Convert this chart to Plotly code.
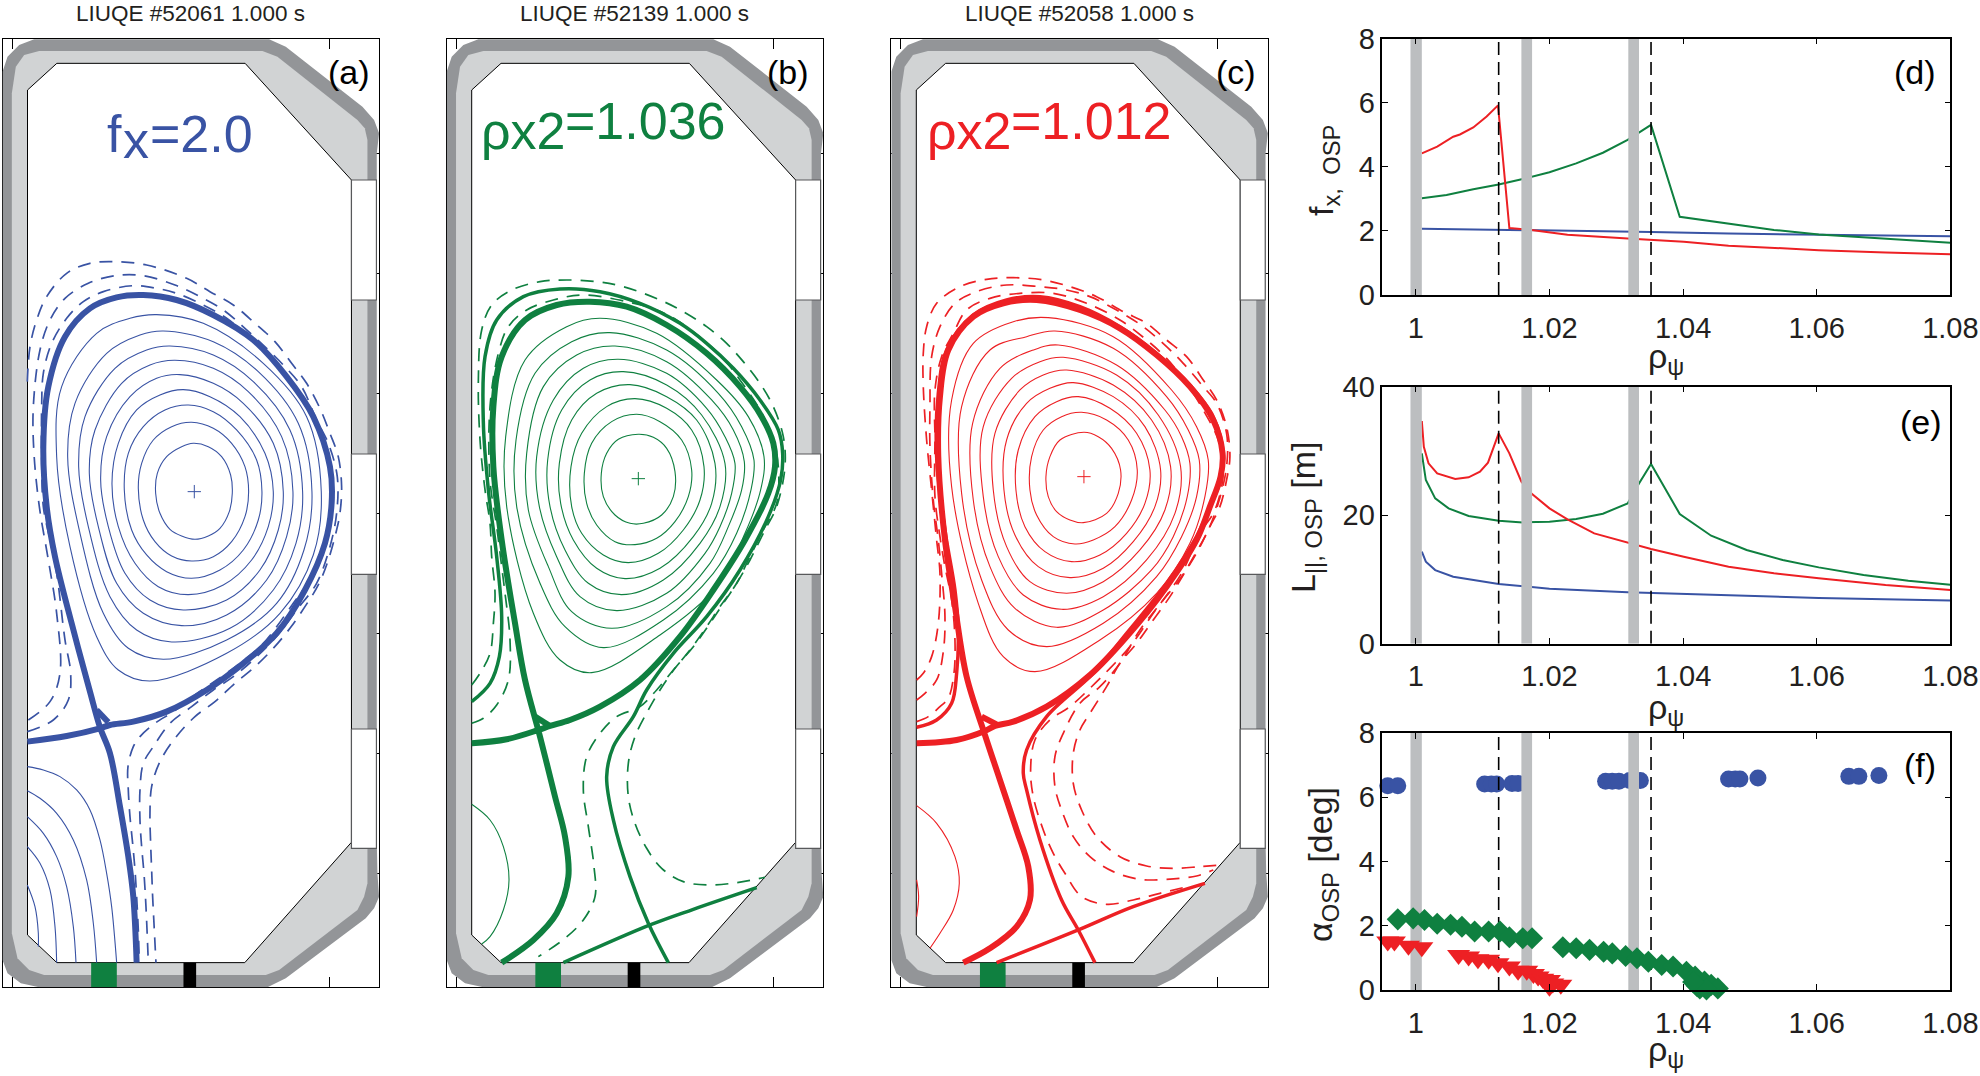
import plotly.graph_objects as go

BLUE = '#3953a4'
GREEN = '#0f8040'
RED = '#ed2024'
DARK_GRAY = '#939598'
LIGHT_GRAY = '#d1d3d4'
BAND_GRAY = '#bcbec0'
INK = '#231f20'
FONT = 'Liberation Sans'

# ---- vessel, same for the three equilibria (R offset from the frame, Z down) ----
VESSEL_OUTER = [(0, 2160), (15, 2200), (55, 2230), (110, 2242), (795, 2242), (850, 2215), (1090, 2035),
                (1115, 2005), (1130, 1970), (1125, 1900), (1123, 1800), (1123, -260), (1130, -320),
                (1115, -360), (1080, -400), (850, -580), (800, -602), (95, -602), (50, -585), (15, -550),
                (0, -505), (0, 2160)]
VESSEL_MIDDLE = [(28, -440), (40, -520), (65, -555), (110, -567), (780, -567), (825, -550), (1065, -360),
                 (1087, -335), (1095, -300), (1095, 1930), (1085, 1970), (1065, 2010), (830, 2190),
                 (790, 2205), (125, 2205), (80, 2190), (45, 2155), (28, 2080), (28, -440)]
VESSEL_INNER = [(75, -450), (163, -530), (728, -530), (1047, -180), (1047, 1807), (727, 2168), (163, 2168),
                (75, 2085), (75, -450)]
PORT_LEFT = 1047
PORT_RIGHT = 1122
PORT_TOP = [-180, 642, 1467]
PORT_BOTTOM = [180, 1003, 1825]
GREEN_TILE = [(266, 2168), (343, 2168), (343, 2242), (266, 2242), (266, 2168)]
BLACK_TILE = [(543, 2168), (581, 2168), (581, 2282), (543, 2282), (543, 2168)]
FRAME_R_TICKS = [29, 980]
FRAME_Z_TICKS = [-260, 100, 460, 820, 1180, 1540, 1900]

# ---- panel (a) ----
A_AXIS = (583, 755)
A_SURFACES = [
    [(580, 610), (625, 620), (665, 650), (692, 705), (697, 760), (688, 815), (660, 865), (625, 888), (585, 898), (545, 888), (510, 868), (480, 820), (467, 760), (472, 700), (500, 650), (545, 620), (580, 610)],
    [(575, 547), (640, 565), (695, 610), (735, 680), (746, 755), (735, 830), (695, 905), (640, 950), (575, 963), (515, 948), (465, 905), (430, 840), (415, 745), (425, 670), (460, 600), (515, 560), (575, 547)],
    [(565, 495), (640, 515), (710, 570), (770, 660), (786, 755), (775, 840), (730, 930), (660, 990), (575, 1015), (500, 995), (440, 945), (395, 870), (373, 750), (385, 640), (430, 560), (495, 510), (565, 495)],
    [(550, 449), (630, 470), (720, 530), (795, 640), (820, 755), (805, 860), (755, 960), (670, 1035), (565, 1064), (475, 1040), (405, 970), (355, 860), (336, 730), (355, 610), (410, 510), (480, 465), (550, 449)],
    [(540, 404), (640, 430), (730, 490), (820, 610), (850, 755), (835, 870), (780, 990), (680, 1080), (550, 1110), (450, 1080), (375, 1000), (325, 860), (302, 720), (320, 590), (390, 470), (470, 415), (540, 404)],
    [(525, 361), (640, 385), (745, 455), (845, 590), (879, 755), (860, 890), (800, 1020), (680, 1125), (545, 1157), (430, 1120), (350, 1030), (295, 860), (268, 700), (285, 570), (365, 430), (450, 375), (525, 361)],
    [(510, 318), (640, 345), (760, 425), (870, 570), (908, 755), (888, 910), (820, 1050), (690, 1165), (515, 1206), (410, 1170), (330, 1070), (265, 860), (236, 680), (255, 530), (345, 385), (440, 330), (510, 318)],
    [(490, 273), (640, 305), (775, 395), (895, 550), (936, 755), (912, 930), (830, 1090), (680, 1200), (490, 1258), (385, 1225), (310, 1120), (240, 880), (203, 650), (225, 490), (320, 340), (420, 285), (490, 273)],
    [(470, 224), (610, 250), (790, 370), (920, 530), (964, 755), (940, 945), (840, 1120), (680, 1240), (450, 1323), (355, 1290), (290, 1190), (210, 920), (170, 650), (185, 440), (290, 280), (390, 235), (470, 224)],
]
A_PRIVATE = [
    [(82, 1580), (130, 1590), (180, 1610), (230, 1650), (270, 1710), (300, 1800), (320, 1900), (335, 2000), (350, 2168)],
    [(82, 1652), (120, 1675), (170, 1720), (220, 1800), (260, 1920), (280, 2050), (290, 2168)],
    [(82, 1730), (130, 1780), (170, 1850), (200, 1940), (220, 2060), (228, 2168)],
    [(82, 1820), (120, 1870), (150, 1950), (165, 2060), (170, 2168)],
    [(82, 1935), (105, 2000), (115, 2080), (115, 2120)],
]
A_THICK = [
    [(410, 2168), (400, 1970), (385, 1850), (360, 1700), (330, 1540), (300, 1462), (270, 1355), (215, 1150), (165, 950), (140, 800), (130, 620), (145, 440), (195, 290), (270, 205), (350, 172), (430, 165), (530, 180), (640, 225), (760, 300), (860, 410), (940, 530), (990, 680), (995, 790), (975, 910), (915, 1050), (830, 1180), (730, 1270), (620, 1350), (500, 1415), (400, 1445), (330, 1455), (300, 1465), (200, 1488), (82, 1505)],
    [(290, 1410), (325, 1447)],
]
A_MEDIUM = []
A_DASHED = [
    [(82, 425), (90, 320), (110, 240), (140, 170), (200, 100), (270, 70), (345, 65), (440, 75), (560, 115), (630, 155), (700, 195), (765, 250), (825, 305), (875, 370), (920, 430), (960, 505), (990, 580), (1015, 650), (1025, 740), (1020, 820), (1010, 870), (985, 960), (955, 1035), (915, 1100), (870, 1165), (820, 1225), (765, 1280), (705, 1330), (645, 1385), (585, 1430), (525, 1495), (480, 1565), (455, 1640), (450, 1720), (452, 1810), (455, 1890), (458, 1970), (462, 2050), (468, 2168)],
    [(85, 1440), (150, 1385), (180, 1300), (170, 1120), (145, 960), (118, 800), (102, 640), (100, 500), (120, 330), (150, 240), (195, 175), (265, 130), (345, 107), (430, 107), (525, 135), (600, 170), (670, 210), (735, 265), (800, 325), (850, 375), (905, 440), (950, 540), (985, 610), (1012, 710), (1010, 820), (990, 920), (950, 1030), (890, 1110), (825, 1195), (765, 1255), (700, 1310), (640, 1350), (575, 1400), (510, 1450), (460, 1520), (430, 1570), (420, 1650), (420, 1740), (425, 1820), (432, 1900), (438, 2000), (445, 2168)],
    [(82, 1475), (160, 1440), (205, 1380), (212, 1300), (195, 1200), (170, 1000), (150, 900), (130, 800), (125, 650), (125, 500), (130, 400), (155, 310), (200, 235), (250, 185), (310, 155), (400, 137), (470, 145), (530, 160), (610, 195), (680, 235), (740, 285), (800, 345), (860, 410), (905, 470), (950, 560), (990, 670), (1000, 790), (975, 920), (935, 1010), (880, 1090), (790, 1210), (720, 1270), (650, 1320), (585, 1365), (520, 1415), (465, 1450), (420, 1490), (400, 1520), (384, 1580), (385, 1650), (390, 1730), (398, 1810), (405, 1890), (410, 1970), (415, 2070), (418, 2168)],
]

# ---- panel (b) ----
B_AXIS = (595, 716)
B_SURFACES = [
    [(595, 583), (640, 592), (680, 625), (705, 695), (700, 770), (665, 825), (610, 850), (570, 850), (525, 825), (490, 770), (484, 700), (500, 640), (535, 598), (595, 583)],
    [(590, 523), (660, 545), (725, 600), (755, 690), (745, 770), (705, 845), (650, 895), (585, 914), (525, 905), (470, 855), (440, 790), (433, 700), (455, 610), (515, 545), (590, 523)],
    [(585, 476), (680, 505), (755, 570), (792, 680), (780, 780), (730, 870), (655, 940), (565, 968), (490, 945), (425, 880), (395, 800), (393, 680), (425, 580), (500, 500), (585, 476)],
    [(570, 434), (680, 470), (770, 540), (825, 670), (815, 790), (760, 890), (660, 985), (555, 1016), (470, 985), (400, 900), (362, 790), (358, 670), (395, 540), (470, 460), (570, 434)],
    [(550, 395), (680, 435), (785, 525), (855, 670), (840, 800), (780, 910), (670, 1020), (545, 1064), (445, 1030), (375, 930), (330, 800), (323, 660), (365, 510), (450, 420), (550, 395)],
    [(535, 358), (680, 400), (800, 505), (855, 590), (885, 670), (875, 760), (840, 860), (795, 940), (680, 1060), (530, 1112), (420, 1070), (350, 950), (298, 800), (290, 650), (340, 480), (430, 385), (535, 358)],
    [(525, 318), (680, 365), (815, 480), (880, 570), (913, 665), (905, 750), (865, 860), (810, 970), (680, 1100), (515, 1165), (395, 1115), (325, 980), (265, 810), (260, 640), (310, 440), (410, 345), (525, 318)],
    [(510, 278), (680, 330), (835, 460), (905, 560), (942, 660), (933, 750), (890, 880), (820, 1000), (670, 1140), (490, 1223), (375, 1160), (300, 1030), (230, 800), (228, 600), (285, 400), (395, 305), (510, 278)],
    [(480, 235), (650, 280), (830, 420), (925, 530), (972, 650), (962, 750), (915, 880), (830, 1040), (660, 1185), (455, 1298), (360, 1260), (280, 1120), (200, 800), (197, 590), (255, 360), (380, 260), (480, 235)],
]
B_PRIVATE = [
    [(95, 1693), (150, 1740), (190, 1820), (207, 1920), (190, 2010), (150, 2090), (125, 2112)],
]
B_THICK = [
    [(185, 2168), (280, 2100), (350, 2020), (385, 1910), (375, 1790), (345, 1670), (300, 1490), (255, 1320), (225, 1150), (185, 900), (160, 680), (160, 500), (185, 350), (255, 240), (350, 195), (450, 185), (560, 200), (680, 255), (800, 340), (900, 440), (965, 530), (1000, 610), (1005, 680), (985, 760), (915, 900), (820, 1050), (720, 1190), (600, 1320), (480, 1400), (390, 1440), (330, 1458), (295, 1470), (200, 1498), (95, 1510)],
    [(285, 1430), (330, 1458)],
]
B_MEDIUM = [
    [(95, 1385), (150, 1330), (178, 1250), (185, 1130), (170, 950), (145, 750), (130, 550), (135, 350), (170, 240), (250, 170), (360, 147), (480, 155), (600, 190), (720, 250), (800, 310), (880, 385), (960, 480), (1015, 570), (1028, 640), (1022, 720), (985, 830), (900, 990), (800, 1130), (700, 1240), (620, 1350), (580, 1430), (520, 1520), (500, 1610), (520, 1740), (570, 1910), (625, 2050), (685, 2168)],
    [(370, 2168), (630, 2055), (760, 2008), (950, 1943)],
]
B_DASHED = [
    [(95, 1450), (130, 1435), (170, 1395), (205, 1320), (210, 1200), (195, 1060), (185, 980), (170, 860), (150, 720), (150, 500), (175, 340), (205, 260), (260, 210), (340, 180), (430, 165), (560, 185), (650, 210), (710, 240), (790, 300), (850, 355), (900, 420), (960, 510), (1000, 600), (1015, 680), (1010, 790), (970, 870), (925, 960), (890, 1030), (840, 1100), (800, 1160), (750, 1230), (700, 1290), (650, 1350), (600, 1400), (530, 1430), (480, 1480), (440, 1550), (430, 1650), (445, 1760), (462, 1880), (465, 1970), (430, 2040), (375, 2095), (295, 2150)],
    [(95, 1335), (120, 1300), (150, 1240), (160, 1150), (165, 1060), (155, 950), (150, 850), (135, 750), (120, 600), (115, 420), (125, 270), (155, 195), (215, 150), (300, 125), (380, 120), (470, 125), (550, 140), (660, 180), (730, 215), (800, 260), (860, 310), (910, 365), (960, 430), (1000, 500), (1030, 590), (1035, 680), (1010, 800), (975, 870), (930, 960), (890, 1030), (850, 1090), (810, 1150), (760, 1220), (705, 1285), (660, 1350), (625, 1410), (585, 1490), (565, 1570), (565, 1670), (585, 1750), (620, 1825), (665, 1885), (730, 1925), (810, 1935), (890, 1928), (975, 1912)],
]

# ---- panel (c) ----
C_AXIS = (612, 710)
C_SURFACES = [
    [(612, 577), (655, 590), (695, 625), (722, 690), (715, 760), (680, 820), (610, 848), (570, 840), (530, 815), (505, 770), (498, 710), (510, 650), (540, 600), (612, 577)],
    [(605, 517), (680, 540), (745, 600), (772, 690), (755, 780), (705, 860), (640, 900), (585, 912), (520, 890), (470, 825), (450, 750), (455, 650), (490, 570), (545, 530), (605, 517)],
    [(595, 470), (690, 505), (770, 580), (810, 690), (795, 790), (740, 880), (660, 945), (575, 965), (495, 935), (435, 860), (408, 750), (415, 630), (465, 530), (530, 485), (595, 470)],
    [(580, 428), (700, 470), (795, 560), (842, 690), (825, 800), (760, 905), (670, 985), (570, 1013), (475, 980), (405, 885), (372, 750), (380, 600), (440, 490), (510, 445), (580, 428)],
    [(560, 390), (700, 435), (815, 540), (872, 680), (855, 810), (780, 930), (670, 1025), (560, 1060), (450, 1025), (380, 920), (340, 750), (345, 580), (420, 450), (490, 405), (560, 390)],
    [(550, 352), (710, 405), (835, 525), (902, 680), (885, 820), (800, 960), (670, 1070), (545, 1108), (430, 1065), (355, 950), (310, 770), (310, 560), (395, 415), (480, 365), (550, 352)],
    [(535, 315), (710, 375), (855, 510), (905, 590), (930, 670), (922, 770), (880, 890), (815, 990), (670, 1110), (530, 1162), (405, 1105), (330, 980), (280, 780), (278, 550), (360, 385), (460, 330), (535, 315)],
    [(525, 273), (700, 325), (860, 470), (925, 570), (958, 660), (950, 770), (905, 890), (830, 1010), (670, 1150), (500, 1220), (385, 1170), (305, 1020), (245, 760), (245, 500), (330, 330), (440, 290), (525, 273)],
    [(505, 233), (700, 290), (875, 450), (950, 560), (985, 660), (975, 770), (930, 910), (830, 1060), (660, 1200), (465, 1295), (370, 1250), (295, 1090), (215, 740), (215, 480), (280, 310), (400, 245), (505, 233)],
]
C_PRIVATE = [
    [(110, 1697), (170, 1750), (225, 1850), (238, 1930), (220, 2010), (180, 2080), (150, 2125)],
    [(110, 1920), (116, 1970), (110, 2030)],
]
C_THICK = [
    [(250, 2168), (330, 2125), (410, 2060), (450, 1980), (445, 1880), (410, 1770), (360, 1620), (315, 1485), (260, 1310), (225, 1100), (195, 900), (175, 650), (180, 470), (205, 330), (280, 230), (370, 190), (470, 180), (600, 210), (720, 265), (830, 345), (930, 440), (1000, 540), (1028, 640), (1022, 710), (990, 800), (950, 900), (860, 1040), (740, 1190), (630, 1305), (500, 1400), (400, 1445), (345, 1458), (315, 1473), (230, 1500), (110, 1510)],
    [(305, 1430), (350, 1453)],
]
C_MEDIUM = [
    [(110, 1462), (170, 1440), (215, 1390), (230, 1300), (235, 1170), (225, 1050), (195, 870), (170, 650), (175, 460), (200, 330), (280, 225), (380, 180), (480, 170), (600, 200), (720, 260), (830, 340), (930, 435), (1000, 530), (1030, 640), (1022, 720), (990, 800), (950, 890), (860, 1030), (740, 1180), (640, 1300), (500, 1430), (440, 1530), (430, 1600), (440, 1650), (480, 1800), (545, 1980), (595, 2070), (645, 2168)],
    [(350, 2168), (595, 2070), (760, 2000), (975, 1930)],
]
C_DASHED = [
    [(110, 1445), (145, 1430), (180, 1400), (205, 1375), (222, 1300), (225, 1200), (215, 1080), (195, 980), (180, 890), (165, 770), (165, 600), (165, 450), (185, 350), (220, 280), (260, 210), (330, 175), (420, 160), (520, 160), (620, 190), (720, 240), (800, 300), (860, 355), (920, 430), (970, 510), (1015, 600), (1030, 700), (1005, 810), (960, 880), (905, 1000), (820, 1120), (750, 1220), (690, 1285), (630, 1345), (570, 1400), (510, 1440), (465, 1500), (452, 1590), (460, 1670), (490, 1770), (520, 1840), (555, 1900), (605, 1970), (680, 1993), (760, 1980), (840, 1960), (930, 1938)],
    [(110, 1380), (135, 1360), (170, 1320), (190, 1235), (195, 1130), (185, 1000), (175, 900), (160, 780), (150, 620), (150, 500), (155, 350), (180, 260), (225, 190), (290, 155), (380, 135), (480, 140), (560, 150), (630, 170), (710, 210), (790, 260), (860, 320), (910, 370), (970, 440), (1010, 490), (1040, 580), (1040, 680), (1015, 790), (985, 870), (950, 935), (905, 1010), (850, 1080), (780, 1170), (720, 1270), (660, 1340), (600, 1390), (550, 1480), (525, 1550), (525, 1640), (545, 1710), (580, 1790), (630, 1850), (700, 1895), (780, 1918), (860, 1918), (950, 1908), (1000, 1890)],
    [(110, 1320), (130, 1300), (155, 1250), (175, 1150), (180, 1000), (170, 900), (155, 750), (140, 600), (130, 440), (130, 340), (140, 260), (170, 190), (240, 140), (320, 118), (400, 113), (490, 120), (570, 140), (650, 170), (730, 215), (800, 250), (860, 300), (920, 350), (970, 420), (1010, 480), (1040, 560), (1050, 650), (1040, 720), (1020, 800), (990, 860), (955, 930), (910, 1005), (870, 1070), (820, 1140), (770, 1210), (720, 1270), (680, 1340), (630, 1420), (600, 1470), (580, 1540), (580, 1630), (605, 1710), (650, 1790), (720, 1850), (800, 1878), (880, 1885), (960, 1880), (1025, 1875)],
]

# ---- panels (d), (e), (f) ----
BAND_LEFT = [0.9992, 1.0158, 1.0318]
BAND_RIGHT = [1.0009, 1.0174, 1.0334]
RHO_X2 = [1.0124, 1.0352]
RHO_TICKS = [1, 1.02, 1.04, 1.06, 1.08]
RHO_LABELS = ['1', '1.02', '1.04', '1.06', '1.08']

FX_RED_RHO = [1.0009, 1.0032, 1.0056, 1.0066, 1.0086, 1.0106, 1.0123, 1.014, 1.0173, 1.0227, 1.0317, 1.0354, 1.0401, 1.0468, 1.0536, 1.0603, 1.0703, 1.08]
FX_RED = [4.42, 4.63, 4.94, 5.01, 5.23, 5.57, 5.92, 2.09, 2.03, 1.88, 1.76, 1.72, 1.66, 1.54, 1.46, 1.40, 1.33, 1.27]
FX_GREEN_RHO = [1.0009, 1.0046, 1.0086, 1.0124, 1.016, 1.02, 1.024, 1.028, 1.0317, 1.0352, 1.0395, 1.0468, 1.0536, 1.0603, 1.067, 1.0737, 1.08]
FX_GREEN = [3.02, 3.12, 3.30, 3.45, 3.62, 3.83, 4.11, 4.44, 4.84, 5.31, 2.44, 2.22, 2.03, 1.89, 1.80, 1.71, 1.63]
FX_BLUE_RHO = [1.0009, 1.02, 1.0352, 1.0468, 1.0603, 1.08]
FX_BLUE = [2.07, 2.02, 1.97, 1.92, 1.88, 1.83]

L_RED_RHO = [1.0009, 1.0012, 1.0019, 1.0032, 1.0059, 1.0079, 1.0096, 1.0108, 1.0124, 1.014, 1.0158, 1.0174, 1.02, 1.0227, 1.0267, 1.0317, 1.0352, 1.0401, 1.0468, 1.0536, 1.0603, 1.0703, 1.08]
L_RED = [34.66, 30.66, 28.07, 26.51, 25.63, 25.89, 26.77, 28.17, 32.74, 29.62, 25.21, 23.29, 21.06, 19.35, 17.17, 15.72, 14.73, 13.54, 11.98, 10.95, 10.17, 9.13, 8.35]
L_GREEN_RHO = [1.0009, 1.0015, 1.0029, 1.0049, 1.0079, 1.0124, 1.016, 1.02, 1.024, 1.028, 1.0317, 1.0334, 1.0352, 1.0395, 1.0442, 1.0495, 1.0549, 1.0603, 1.067, 1.0737, 1.08]
L_GREEN = [29.62, 25.47, 22.62, 21.06, 19.87, 19.14, 18.88, 18.99, 19.4, 20.23, 21.84, 24.95, 27.96, 20.18, 16.81, 14.58, 13.02, 11.88, 10.69, 9.81, 9.18]
L_BLUE_RHO = [1.0009, 1.0015, 1.0029, 1.0056, 1.0124, 1.02, 1.0317, 1.0468, 1.0603, 1.08]
L_BLUE = [14.32, 12.76, 11.46, 10.43, 9.29, 8.56, 7.99, 7.47, 7.11, 6.74]

ALPHA_BLUE_RHO = [0.9958, 0.9973, 1.0103, 1.0113, 1.0121, 1.0144, 1.0153, 1.0284, 1.0294, 1.0304, 1.032, 1.0336, 1.0468, 1.0478, 1.0485, 1.0512, 1.0648, 1.0663, 1.0693]
ALPHA_BLUE = [6.36, 6.36, 6.41, 6.41, 6.41, 6.43, 6.43, 6.5, 6.5, 6.5, 6.52, 6.52, 6.57, 6.57, 6.57, 6.6, 6.65, 6.65, 6.68]
ALPHA_GREEN_RHO = [0.9973, 0.9996, 1.0013, 1.0032, 1.0052, 1.0069, 1.0088, 1.0109, 1.0126, 1.014, 1.016, 1.0174, 1.022, 1.024, 1.026, 1.0281, 1.0294, 1.0314, 1.0331, 1.0348, 1.0368, 1.0385, 1.0405, 1.0418, 1.0432, 1.0442, 1.0452, 1.0425, 1.0421, 1.0435, 1.0415]
ALPHA_GREEN = [2.2, 2.23, 2.18, 2.06, 2.03, 1.97, 1.82, 1.82, 1.82, 1.64, 1.61, 1.61, 1.33, 1.30, 1.25, 1.19, 1.14, 1.06, 0.99, 0.88, 0.78, 0.73, 0.57, 0.42, 0.26, 0.16, 0.05, 0.05, 0.12, 0.02, 0.25]
ALPHA_RED_RHO = [0.9958, 0.9968, 0.9989, 1.0009, 1.0064, 1.0079, 1.0093, 1.0109, 1.0123, 1.014, 1.0153, 1.0166, 1.0176, 1.0183, 1.019, 1.02, 1.0205, 1.0217, 1.02]
ALPHA_RED = [1.51, 1.51, 1.38, 1.33, 1.09, 1.04, 0.96, 0.94, 0.83, 0.73, 0.60, 0.60, 0.50, 0.42, 0.35, 0.31, 0.20, 0.16, 0.10]

W, H = 1980, 1076
fig = go.Figure()


def xfrac(px):
    return px / W


def yfrac(py):
    return 1 - py / H


def add_path(pts, n, color, width, dash=None, spline=True):
    fig.add_trace(go.Scatter(
        x=[p[0] for p in pts], y=[p[1] for p in pts], mode='lines', xaxis='x%d' % n, yaxis='y%d' % n,
        line=dict(color=color, width=width, dash=dash, shape='spline' if spline else 'linear', smoothing=1.0),
        hoverinfo='skip', showlegend=False, cliponaxis=False))


def add_fill(pts, n, x0, fill, line_color=None, line_width=0):
    fig.add_trace(go.Scatter(
        x=[p[0] + x0 for p in pts], y=[p[1] for p in pts], mode='lines', fill='toself', fillcolor=fill,
        xaxis='x%d' % n, yaxis='y%d' % n, line=dict(color=line_color or fill, width=line_width),
        hoverinfo='skip', showlegend=False, cliponaxis=False))


def note(text, x, y, size, color=INK, anchor='center', angle=0):
    fig.add_annotation(text=text, x=xfrac(x), y=yfrac(y), xref='paper', yref='paper', xanchor=anchor,
                       yanchor='middle', showarrow=False, textangle=angle,
                       font=dict(family=FONT, size=size, color=color))


def equilibrium_panel(n, left, x0, color, axis, surfaces, private, thick, medium, dashed):
    add_fill(VESSEL_OUTER, n, x0, DARK_GRAY)
    add_fill(VESSEL_MIDDLE, n, x0, LIGHT_GRAY)
    add_fill(VESSEL_INNER, n, x0, 'white', 'black', 1)
    for top, bottom in zip(PORT_TOP, PORT_BOTTOM):
        add_fill([(PORT_LEFT, top), (PORT_RIGHT, top), (PORT_RIGHT, bottom), (PORT_LEFT, bottom), (PORT_LEFT, top)],
                 n, x0, 'white', '#58595b', 1.2)
    add_fill(GREEN_TILE, n, x0, GREEN)
    add_fill(BLACK_TILE, n, x0, 'black')
    for c in surfaces + private:
        add_path(c, n, color, 1.1)
    for c in dashed:
        add_path(c, n, color, 1.7, dash='13px,9px')
    for c in medium:
        add_path(c, n, color, 3.5)
    for c in thick:
        add_path(c, n, color, 6)
    add_path([(axis[0] - 20, axis[1]), (axis[0] + 20, axis[1])], n, color, 1, spline=False)
    add_path([(axis[0], axis[1] - 20), (axis[0], axis[1] + 20)], n, color, 1, spline=False)
    fig.update_layout({
        'xaxis%d' % n: dict(domain=[xfrac(left), xfrac(left + 376.6)], range=[x0, x0 + 1130], anchor='y%d' % n,
                            tickvals=[v + x0 for v in FRAME_R_TICKS], showticklabels=False, ticks='inside', ticklen=10,
                            tickcolor='black', tickwidth=1, showgrid=False, zeroline=False, showline=True,
                            linecolor='black', linewidth=1, mirror='ticks', layer='below traces'),
        'yaxis%d' % n: dict(domain=[yfrac(987.3), yfrac(38.5)], range=[2242, -604.5], anchor='x%d' % n,
                            tickvals=FRAME_Z_TICKS, showticklabels=False, ticks='inside', ticklen=10,
                            tickcolor='black', tickwidth=1, showgrid=False, zeroline=False, showline=True,
                            linecolor='black', linewidth=1, mirror='ticks', layer='below traces'),
    })


def profile_axes(n, top, bottom, yrange, yticks):
    fig.update_layout({
        'xaxis%d' % n: dict(domain=[xfrac(1382.4), xfrac(1950.4)], range=[0.995, 1.08], anchor='y%d' % n,
                            tickvals=RHO_TICKS, ticktext=RHO_LABELS, ticks='inside', ticklen=6, tickcolor='black',
                            tickwidth=1, showgrid=False, zeroline=False, showline=True, linecolor='black', linewidth=1.5,
                            mirror='ticks', ticklabelstandoff=6, tickfont=dict(family=FONT, size=29, color=INK)),
        'yaxis%d' % n: dict(domain=[yfrac(bottom), yfrac(top)], range=yrange, anchor='x%d' % n,
                            tickvals=yticks, ticks='inside', ticklen=6, tickcolor='black', tickwidth=1,
                            showgrid=False, zeroline=False, showline=True, linecolor='black', linewidth=1.5,
                            mirror='ticks', tickfont=dict(family=FONT, size=29, color=INK)),
    })


def add_guides(n, ymax):
    for lo, hi in zip(BAND_LEFT, BAND_RIGHT):
        fig.add_trace(go.Scatter(x=[lo, lo, hi, hi, lo], y=[0, ymax, ymax, 0, 0], mode='lines', fill='toself',
                                 fillcolor=BAND_GRAY, line=dict(color=BAND_GRAY, width=0), hoverinfo='skip',
                                 showlegend=False, xaxis='x%d' % n, yaxis='y%d' % n))


def add_x2_lines(n, ymax):
    for r in RHO_X2:
        fig.add_trace(go.Scatter(x=[r, r], y=[0, ymax], mode='lines', line=dict(color='black', width=1.6, dash='13px,7px'),
                                 hoverinfo='skip', showlegend=False, xaxis='x%d' % n, yaxis='y%d' % n))


def add_curve(xs, ys, n, color):
    fig.add_trace(go.Scatter(x=xs, y=ys, mode='lines', line=dict(color=color, width=2), hoverinfo='skip',
                             showlegend=False, xaxis='x%d' % n, yaxis='y%d' % n))


def add_markers(xs, ys, n, color, symbol, size):
    fig.add_trace(go.Scatter(x=xs, y=ys, mode='markers', marker=dict(color=color, symbol=symbol, size=size, line=dict(width=0)),
                             hoverinfo='skip', showlegend=False, xaxis='x%d' % n, yaxis='y%d' % n, cliponaxis=False))


equilibrium_panel(1, 2.5, 7.5, BLUE, A_AXIS, A_SURFACES, A_PRIVATE, A_THICK, A_MEDIUM, A_DASHED)
equilibrium_panel(2, 446.7, 20, GREEN, B_AXIS, B_SURFACES, B_PRIVATE, B_THICK, B_MEDIUM, B_DASHED)
equilibrium_panel(3, 891.3, 34, RED, C_AXIS, C_SURFACES, C_PRIVATE, C_THICK, C_MEDIUM, C_DASHED)

# profiles: the curves go under the grey bands, the dashed lines on top
add_curve(FX_BLUE_RHO, FX_BLUE, 4, BLUE)
add_curve(FX_GREEN_RHO, FX_GREEN, 4, GREEN)
add_curve(FX_RED_RHO, FX_RED, 4, RED)
add_guides(4, 8)
add_x2_lines(4, 8)
profile_axes(4, 38.7, 295, [0, 8], [0, 2, 4, 6, 8])

add_curve(L_BLUE_RHO, L_BLUE, 5, BLUE)
add_curve(L_GREEN_RHO, L_GREEN, 5, GREEN)
add_curve(L_RED_RHO, L_RED, 5, RED)
add_guides(5, 40)
add_x2_lines(5, 40)
profile_axes(5, 386.7, 643.7, [0, 40], [0, 20, 40])

add_markers(ALPHA_BLUE_RHO, ALPHA_BLUE, 6, BLUE, 'circle', 17)
add_guides(6, 8)
add_x2_lines(6, 8)
add_markers(ALPHA_GREEN_RHO, ALPHA_GREEN, 6, GREEN, 'diamond', 17)
add_markers(ALPHA_RED_RHO, ALPHA_RED, 6, RED, 'triangle-down', 20)
profile_axes(6, 733, 990, [0, 8], [0, 2, 4, 6, 8])

for text, x in [('LIUQE #52061 1.000 s', 190), ('LIUQE #52139 1.000 s', 634), ('LIUQE #52058 1.000 s', 1079)]:
    note(text, x, 13, 22.5)
for text, x, y in [('(a)', 349, 72), ('(b)', 788, 72), ('(c)', 1236, 72), ('(d)', 1915, 72), ('(e)', 1921, 422), ('(f)', 1920, 765)]:
    note(text, x, y, 34, 'black')

note('f', 105, 134, 52, BLUE, 'left')
note('x', 121, 140, 52, BLUE, 'left')
note('=2.0', 148, 134, 52, BLUE, 'left')
note('ρx2', 479, 131, 52, GREEN, 'left')
note('=1.036', 563, 121, 52, GREEN, 'left')
note('ρx2', 925, 131, 52, RED, 'left')
note('=1.012', 1009, 121, 52, RED, 'left')

note('f<sub>x,\u00a0\u00a0OSP</sub>', 1324, 171, 34, INK, 'center', -90)
note('L<sub>||, OSP</sub> [m]', 1305, 518, 34, INK, 'center', -90)
note('α<sub>OSP</sub> [deg]', 1322, 865, 34, INK, 'center', -90)
for y in [358, 709, 1051]:
    note('ρ<sub>ψ</sub>', 1666, y, 34)

fig.update_layout(width=W, height=H, margin=dict(l=0, r=0, t=0, b=0, autoexpand=False), paper_bgcolor='white',
                  plot_bgcolor='white', showlegend=False)
fig.write_html("out.html", config={'displayModeBar': False}, post_script="document.body.style.margin='0';")
